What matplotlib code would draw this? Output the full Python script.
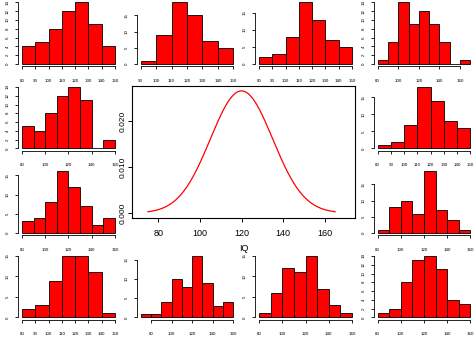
import numpy as np
import matplotlib
matplotlib.use("Agg")
import matplotlib.pyplot as plt

plt.rcParams["font.family"] = ["Liberation Sans", "DejaVu Sans"]

W, H = 474, 338
DPI = 100

# ---- data -------------------------------------------------------------
# (row, col) of each small histogram in the 4x4 grid
positions = [(0, 0), (0, 1), (0, 2), (0, 3),
             (1, 0), (1, 3),
             (2, 0), (2, 3),
             (3, 0), (3, 1), (3, 2), (3, 3)]
# first break of each histogram (bins are 10 IQ points wide)
starts = [80, 90, 80, 80, 80, 80, 80, 80, 80, 70, 80, 80]
counts = [
    [4, 5, 8, 12, 14, 9, 4],
    [1, 9, 19, 15, 7, 5],
    [2, 3, 8, 18, 13, 7, 5],
    [1, 5, 14, 9, 12, 9, 5, 0, 1],
    [5, 4, 8, 12, 14, 11, 0, 2],
    [1, 2, 7, 18, 14, 8, 6],
    [3, 4, 8, 16, 12, 7, 2, 4],
    [1, 8, 10, 6, 19, 7, 4, 1],
    [2, 3, 9, 15, 15, 11, 1],
    [1, 1, 4, 10, 8, 16, 9, 3, 4],
    [1, 6, 12, 11, 15, 7, 3, 1],
    [1, 2, 8, 13, 14, 11, 4, 3],
]
binwidth = 10

# centre panel: normal density curve
mu, sigma = 120, 15
curve_from, curve_to = 75, 165
center_xlim = (67.3, 174.6)
center_xticks = [80, 100, 120, 140, 160]
center_yticks = [0.000, 0.010, 0.020]
center_xlabel = "IQ"

RED = "#FF0000"

fig = plt.figure(figsize=(W / DPI, H / DPI), dpi=DPI)
fig.patch.set_facecolor("white")


def px_axes(left, top, width, height):
    return fig.add_axes([left / W, 1 - (top + height) / H, width / W, height / H])


cell_w, cell_h = 118.5, 84.5

for (r, c), s, cnt in zip(positions, starts, counts):
    cnt = np.array(cnt)
    edges = s + binwidth * np.arange(len(cnt) + 1)
    lo, hi = edges[0], edges[-1]
    ymax = cnt.max()

    ax = px_axes(c * cell_w + 18.3, r * cell_h + 0.0, 100.4, 66.4)
    ax.bar(edges[:-1], cnt, width=binwidth, align="edge", color=RED,
           edgecolor="black", linewidth=0.6)
    padx = 0.04 * (hi - lo)
    ax.set_xlim(lo - padx, hi + padx)
    pady = 0.04 * ymax
    ax.set_ylim(-pady, ymax + pady)

    step = 10 if (hi - lo) <= 70 else 20
    first = int(np.ceil(lo / step) * step)
    xt = list(range(first, hi + 1, step))
    ystep = 2 if ymax <= 14 else 5
    yt = list(range(0, ymax + 1, ystep))

    ax.set_xticks(xt)
    ax.set_xticklabels([str(v) for v in xt])
    ax.set_yticks(yt)
    ax.set_yticklabels([str(v) for v in yt], rotation=90, va="center")
    for sp in ("top", "right"):
        ax.spines[sp].set_visible(False)
    ax.spines["bottom"].set_bounds(xt[0], xt[-1])
    ax.spines["left"].set_bounds(yt[0], yt[-1])
    for sp in ("bottom", "left"):
        ax.spines[sp].set_linewidth(0.6)
    ax.tick_params(axis="both", direction="out", length=2, width=0.6,
                   labelsize=3.2, pad=4)
    ax.tick_params(axis="x", pad=7)
    ax.set_facecolor("none")

# ---- centre panel ------------------------------------------------------
axc = px_axes(132, 86, 223, 132)
x = np.linspace(curve_from, curve_to, 400)
y = np.exp(-0.5 * ((x - mu) / sigma) ** 2) / (sigma * np.sqrt(2 * np.pi))
axc.plot(x, y, color=RED, linewidth=0.9)
axc.set_xlim(*center_xlim)
ymx = y.max()
axc.set_ylim(-0.04 * ymx, ymx * 1.04)
axc.set_xticks(center_xticks)
axc.set_xticklabels([str(v) for v in center_xticks])
axc.set_yticks(center_yticks)
axc.set_yticklabels(["%.3f" % v for v in center_yticks], rotation=90, va="center")
axc.tick_params(axis="both", direction="out", length=3, width=0.7,
                labelsize=6.5, pad=2.5)
axc.tick_params(axis="y", pad=1.2, labelsize=6)
axc.tick_params(axis="x", pad=5)
for sp in axc.spines.values():
    sp.set_linewidth(0.8)
axc.set_xlabel(center_xlabel, fontsize=6.5, labelpad=4)

fig.savefig("out.png", dpi=DPI)
